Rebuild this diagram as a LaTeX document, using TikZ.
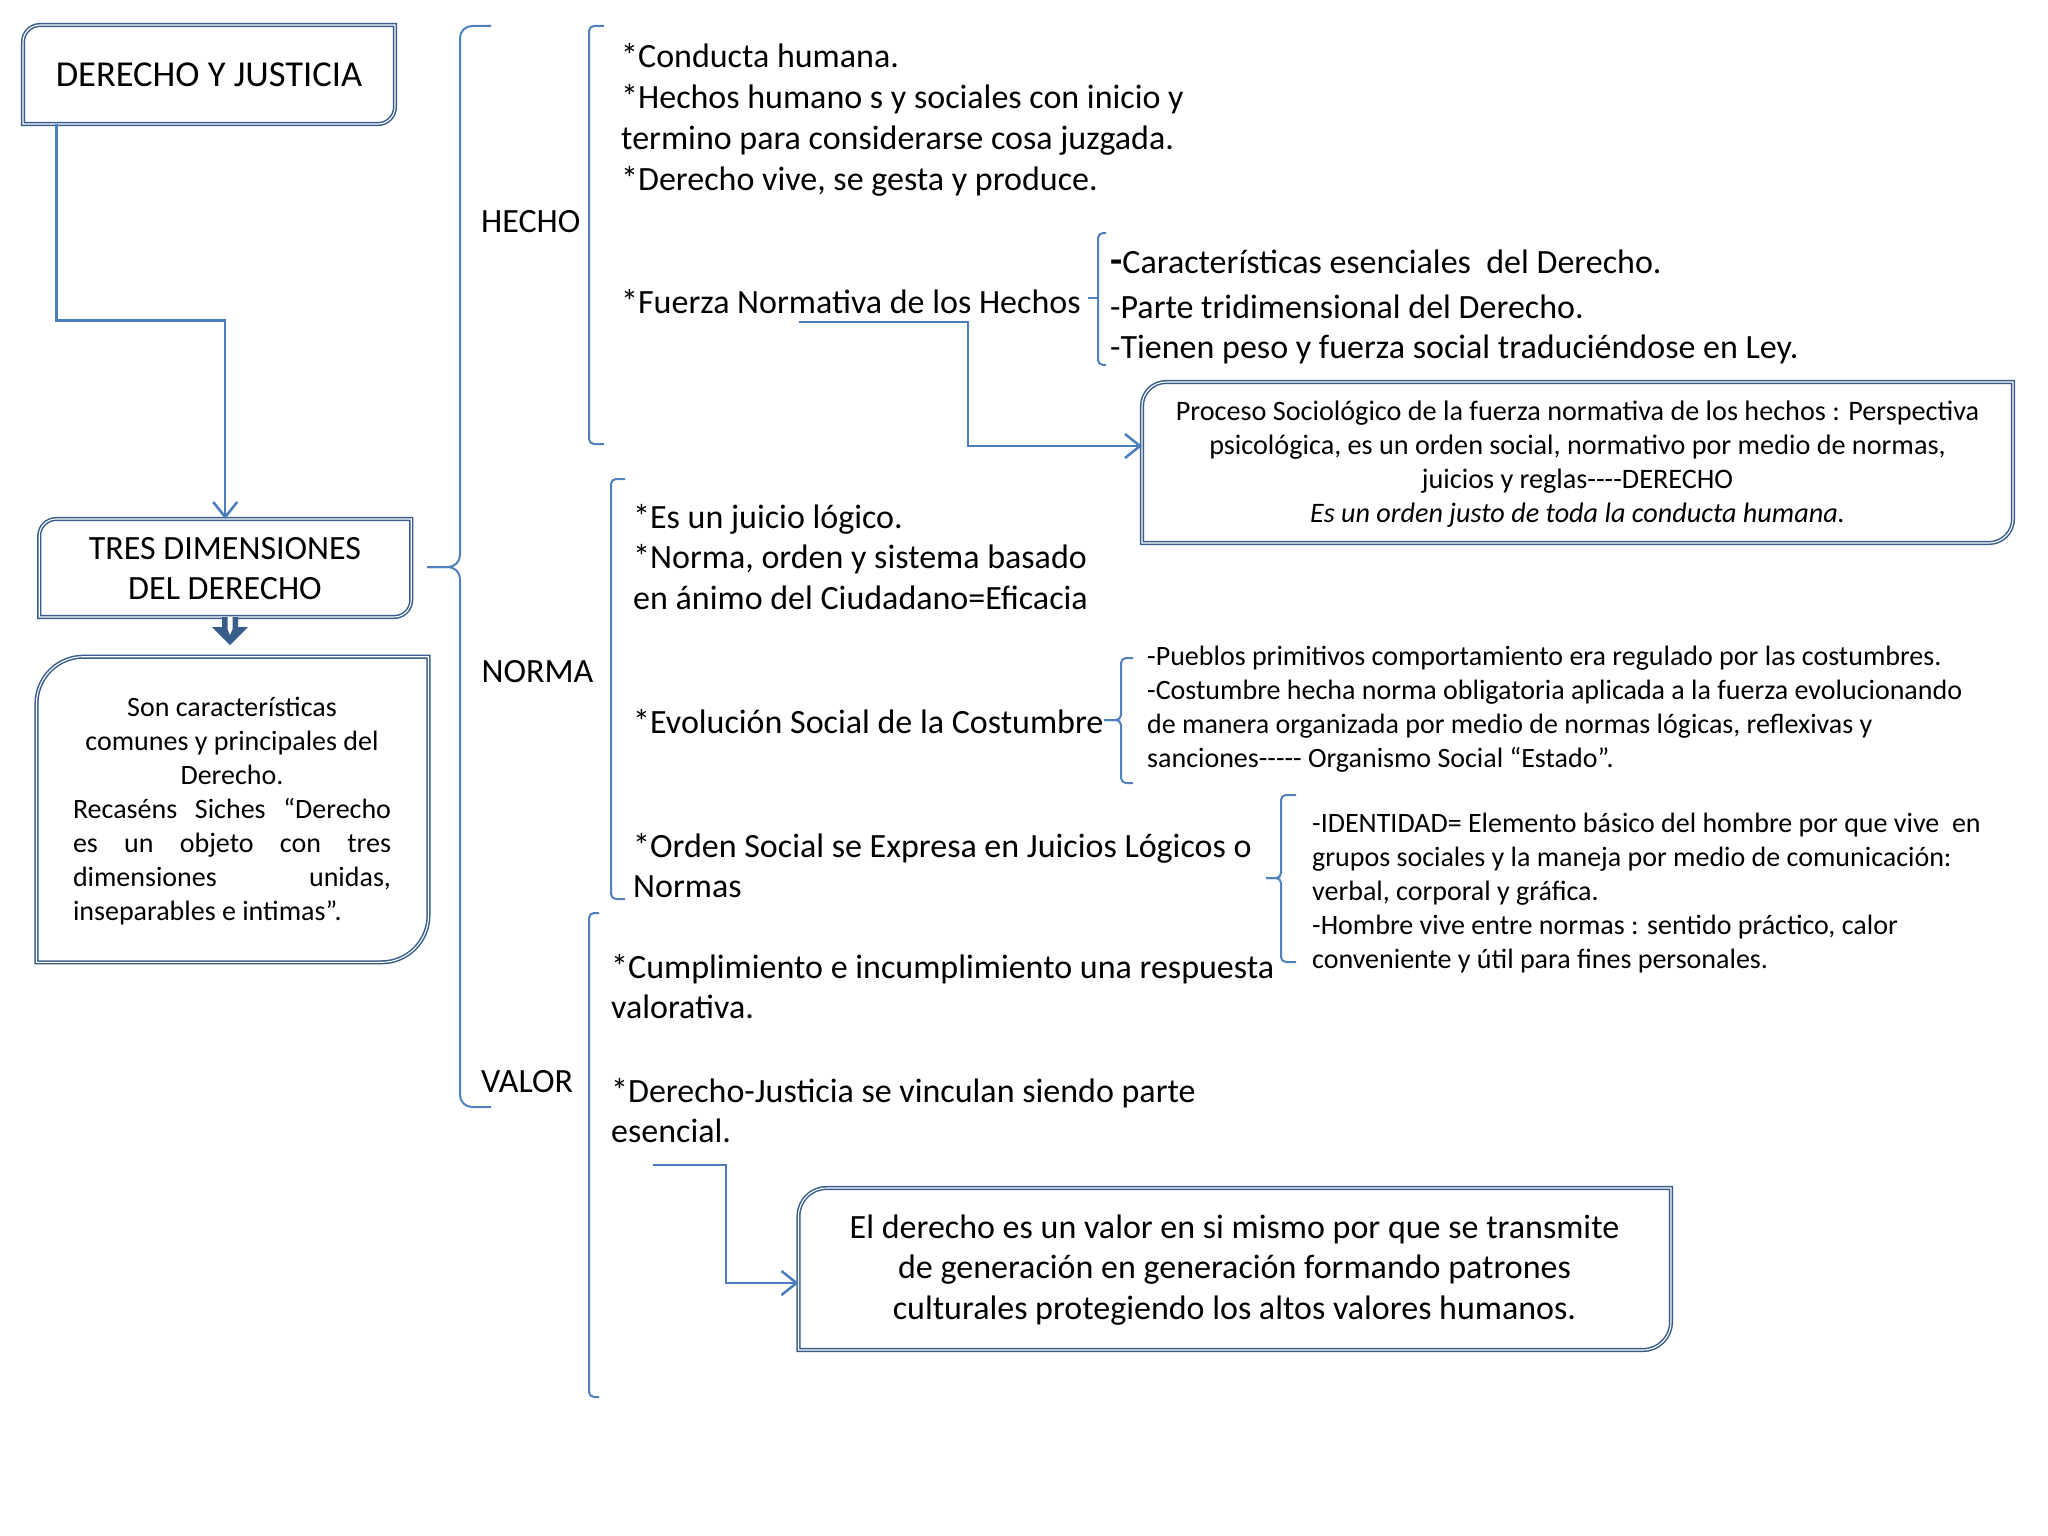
\documentclass[tikz,border=0pt]{standalone}
\usepackage{fontspec}
\setmainfont{Carlito}[Ligatures=TeXOff]
\usetikzlibrary{arrows.meta,calc}
\definecolor{brkc}{RGB}{79,129,189}
\definecolor{cnc}{RGB}{74,126,187}
\definecolor{bxc}{RGB}{56,93,138}
\newcommand\mylt[1]{\begin{tabular}[t]{@{}l@{}}#1\end{tabular}}
\newcommand\myct[1]{\begin{tabular}[t]{@{}c@{}}#1\end{tabular}}
\newcommand\rbord[3]{\draw[boxline] (#1.south west) -- ([yshift=-#2]#1.north west) arc[start angle=180,end angle=90,radius=#2] -- (#1.north east) -- ([yshift=#3]#1.south east) arc[start angle=0,end angle=-90,radius=#3] -- cycle;}
\begin{document}
\begin{tikzpicture}[x=1pt,y=1pt,
  big/.style={font=\fontsize{34}{40.7}\selectfont, inner sep=0pt, anchor=base west},
  sm/.style={font=\fontsize{28}{34}\selectfont, inner sep=0pt, anchor=base west},
  boxn/.style={draw=none, inner sep=0pt, outer sep=0pt},
  boxline/.style={draw=bxc, line width=1.5pt, double=white, double distance=1.1pt},
  conn/.style={draw=cnc, line width=2.5pt, -{Straight Barb[length=15pt,width=24pt,line width=2.5pt]}},
  brk/.style={draw=brkc, line width=2pt, rounded corners=5pt},
  bigbrk/.style={draw=brkc, line width=2pt, rounded corners=12pt}]
\useasboundingbox (0,0) rectangle (2048,-1536);
\fill[white] (0,0) rectangle (2048,-1536);

% ---- boxes ----
\node[boxn, minimum width=372pt, minimum height=99pt] (box1) at (209,-74.5) {};
\rbord{box1}{17pt}{17pt}
\node[font=\fontsize{36.5}{44}\selectfont, inner sep=0pt, anchor=base] (box1t) at (209,-87) {DERECHO Y JUSTICIA};

\node[boxn, minimum width=372pt, minimum height=98pt] (tres) at (225.2,-568) {};
\rbord{tres}{17pt}{17pt}
\node[big, anchor=base] (trest) at (225,-559) {\myct{TRES DIMENSIONES\\DEL DERECHO}};

\node[boxn, minimum width=392pt, minimum height=305.6pt] (son) at (232.5,-809.5) {};
\rbord{son}{47pt}{47pt}
\node[sm, anchor=base] (sont) at (232,-716.7) {\myct{%
\makebox[318pt]{Son características}\\
\makebox[318pt]{comunes y principales del}\\
\makebox[318pt]{Derecho.}\\
\makebox[318pt][s]{Recaséns\hfill Siches\hfill “Derecho}\\
\makebox[318pt][s]{es\hfill un\hfill objeto\hfill con\hfill tres}\\
\makebox[318pt][s]{dimensiones\hfill unidas,}\\
\makebox[318pt][l]{inseparables e intimas”.}}};

\node[boxn, minimum width=871pt, minimum height=161pt] (proc) at (1577.5,-462.5) {};
\rbord{proc}{24pt}{24pt}
\node[font=\fontsize{28.2}{34}\selectfont, inner sep=0pt, anchor=base] (proct) at (1577.5,-420) {\myct{Proceso Sociológico de la fuerza normativa de los hechos : Perspectiva\\psicológica, es un orden social, normativo por medio de normas,\\juicios y reglas----DERECHO\\\textit{Es un orden justo de toda la conducta humana.}}};

\node[boxn, minimum width=872.5pt, minimum height=162pt] (fin) at (1234.75,-1269) {};
\rbord{fin}{28pt}{28pt}
\node[big, anchor=base] (fint) at (1234.5,-1238) {\myct{El derecho es un valor en si mismo por que se transmite\\de generación en generación formando patrones\\culturales protegiendo los altos valores humanos.}};

% ---- block arrow ----
\fill[bxc] (222,-617) -- (238,-617) -- (238,-627) -- (248,-627) -- (230,-645) -- (212,-627) -- (222,-627) -- cycle;
\fill[white] (227.5,-617) -- (232.5,-617) -- (232.5,-629) -- (230,-635) -- (227.5,-629) -- cycle;

% ---- connectors ----
\coordinate (j1) at (56.6,-320.5);
\draw[conn] (box1.south -| j1) -- (j1) -| (tres.north);
\coordinate (f1) at (799,-322);
\coordinate (f2) at (968,-446);
\draw[conn] (f1) -| (f2) -- (f2 -| proc.west);
\coordinate (v1) at (653,-1165);
\coordinate (v2) at (726,-1283);
\draw[conn] (v1) -| (v2) -- (v2 -| fin.west);

% ---- brackets ----
\draw[bigbrk] (491,-26) -- (460,-26) -- (460,-567) -- (427,-567);
\draw[bigbrk] (427,-567) -- (460,-567) -- (460,-1107) -- (491,-1107);
\draw[brk] (604,-26) -- (589,-26) -- (589,-444) -- (604,-444);
\draw[brk] (1106,-233) -- (1098,-233) -- (1098,-365) -- (1106,-365);
\draw[brkc, line width=2pt] (1098,-298) -- (1088,-298);
\draw[brk] (625,-479) -- (611,-479) -- (611,-899) -- (625,-899);
\draw[brk] (1133,-658) -- (1121,-658) -- (1121,-720) -- (1104,-720);
\draw[brk] (1104,-720) -- (1121,-720) -- (1121,-783) -- (1133,-783);
\draw[brk] (1296,-795) -- (1281,-795) -- (1281,-878) -- (1266,-878);
\draw[brk] (1266,-878) -- (1281,-878) -- (1281,-962) -- (1296,-962);
\draw[brk] (599,-913) -- (589,-913) -- (589,-1397) -- (599,-1397);

% ---- labels ----
\node[big] (hecho) at (481,-232) {HECHO};
\node[big] (norma) at (481.5,-682) {NORMA};
\node[big] (valor) at (481,-1092) {VALOR};

% ---- HECHO ----
\node[big] (h1) at (621,-68) {\mylt{*Conducta humana.\\{}*Hechos humano s y sociales con inicio y\\termino para considerarse cosa juzgada.\\{}*Derecho vive, se gesta y produce.}};
\node[big] (fuerza) at (621,-313) {*Fuerza Normativa de los Hechos};
\node[big] (c1) at (1110,-273) {{\fontsize{40}{40}\selectfont\bfseries -}Características esenciales\ \ del Derecho.};
\node[big] (c2) at (1110,-318) {-Parte tridimensional del Derecho.};
\node[big] (c3) at (1110,-358) {-Tienen peso y fuerza social traduciéndose en Ley.};

% ---- NORMA ----
\node[big] (n1) at (633,-528) {\mylt{*Es un juicio lógico.\\{}*Norma, orden y sistema basado\\en ánimo del Ciudadano=Eficacia}};
\node[big] (evol) at (633,-733) {*Evolución Social de la Costumbre};
\node[sm] (cost) at (1147,-665) {\mylt{-Pueblos primitivos comportamiento era regulado por las costumbres.\\-Costumbre hecha norma obligatoria aplicada a la fuerza evolucionando\\de manera organizada por medio de normas lógicas, reflexivas y\\sanciones----- Organismo Social “Estado”.}};
\node[big] (orden) at (633,-857) {\mylt{*Orden Social se Expresa en Juicios Lógicos o\\Normas}};
\node[sm] (ident) at (1312,-832) {\mylt{-IDENTIDAD= Elemento básico del hombre por que vive\ \ en\\grupos sociales y la maneja por medio de comunicación:\\verbal, corporal y gráfica.\\-Hombre vive entre normas : sentido práctico, calor\\conveniente y útil para fines personales.}};

% ---- VALOR ----
\node[big] (v1t) at (611,-978) {\mylt{*Cumplimiento e incumplimiento una respuesta\\valorativa.}};
\node[big] (v2t) at (611,-1102) {\mylt{*Derecho-Justicia se vinculan siendo parte\\esencial.}};
\end{tikzpicture}
\end{document}
